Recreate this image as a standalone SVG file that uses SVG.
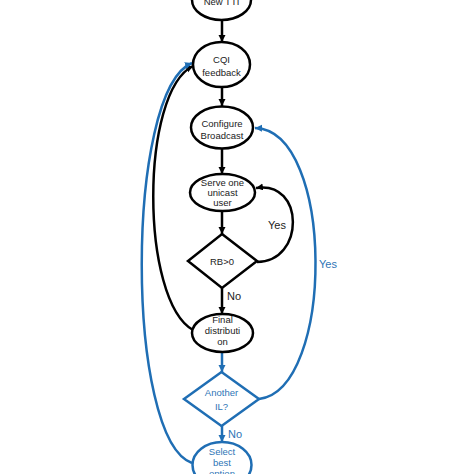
<svg xmlns="http://www.w3.org/2000/svg" width="474" height="474" viewBox="0 0 474 474">
<defs>
<style>
.nb{fill:#fff;stroke:#000;stroke-width:2.5}
.nu{fill:#fff;stroke:#1f6eb4;stroke-width:2.5}
.t{font-family:"Liberation Sans",Arial,sans-serif;font-size:9.5px;text-anchor:middle;fill:#222}
.tb{font-family:"Liberation Sans",Arial,sans-serif;font-size:9.5px;text-anchor:middle;fill:#2e75b6}
.lb{font-family:"Liberation Sans",Arial,sans-serif;font-size:11px;fill:#222}
.lu{font-family:"Liberation Sans",Arial,sans-serif;font-size:11px;fill:#2e75b6}
.cb{fill:none;stroke:#000;stroke-width:2.5}
.cu{fill:none;stroke:#1f6eb4;stroke-width:2.5}
</style>
<marker id="ab" markerUnits="userSpaceOnUse" markerWidth="8" markerHeight="8" refX="7" refY="3.5" orient="auto"><path d="M0,0 L7,3.5 L0,7 z" fill="#000"/></marker>
<marker id="au" markerUnits="userSpaceOnUse" markerWidth="8" markerHeight="8" refX="7" refY="3.5" orient="auto"><path d="M0,0 L7,3.5 L0,7 z" fill="#1f6eb4"/></marker>
</defs>
<rect width="474" height="474" fill="#fff"/>
<g id="connectors">
<line class="cb" x1="222" y1="20" x2="222" y2="42" marker-end="url(#ab)"/>
<line class="cb" x1="222" y1="87" x2="222" y2="106" marker-end="url(#ab)"/>
<line class="cb" x1="222" y1="148.5" x2="222" y2="174" marker-end="url(#ab)"/>
<line class="cb" x1="222" y1="211" x2="222" y2="234" marker-end="url(#ab)"/>
<line class="cb" x1="222" y1="288" x2="222" y2="314" marker-end="url(#ab)"/>
<line class="cu" x1="222" y1="352" x2="222" y2="372" marker-end="url(#au)"/>
<line class="cu" x1="222" y1="426" x2="222" y2="442" marker-end="url(#au)"/>
<path class="cb" d="M257,262 C305,262 305,180 256,188" marker-end="url(#ab)"/>
<path class="cb" d="M193,330 C140,300 140,92 193,66" marker-end="url(#ab)"/>
<path class="cu" d="M192,463 C125,440 125,90 192,63" marker-end="url(#au)"/>
<path class="cu" d="M259,399 C335,390 335,130 255,128" marker-end="url(#au)"/>
<text class="lb" x="268" y="229">Yes</text>
<text class="lb" x="227" y="300">No</text>
<text class="lu" x="319" y="268">Yes</text>
<text class="lu" x="228" y="438">No</text>
</g>
<g id="new-tti">
<ellipse class="nb" cx="221.5" cy="0" rx="29.5" ry="20"/>
<text class="t" x="221.5" y="5">New TTI</text>
</g>
<g id="cqi-feedback">
<ellipse class="nb" cx="221.5" cy="64.5" rx="28.5" ry="22.5"/>
<text class="t" x="221.5" y="63">CQI</text>
<text class="t" x="221.5" y="76">feedback</text>
</g>
<g id="configure-broadcast">
<ellipse class="nb" cx="222" cy="127.5" rx="31" ry="21"/>
<text class="t" x="222" y="127">Configure</text>
<text class="t" x="222" y="139">Broadcast</text>
</g>
<g id="serve-unicast">
<ellipse class="nb" cx="222.5" cy="192.5" rx="32.5" ry="18.5"/>
<text class="t" x="222.5" y="186">Serve one</text>
<text class="t" x="222.5" y="196">unicast</text>
<text class="t" x="222.5" y="206">user</text>
</g>
<g id="rb-check">
<polygon class="nb" points="222,234 257,261 222,288 188,261"/>
<text class="t" x="222" y="265">RB&gt;0</text>
</g>
<g id="final-distribution">
<ellipse class="nb" cx="222.5" cy="333" rx="30.5" ry="19"/>
<text class="t" x="222.5" y="323">Final</text>
<text class="t" x="222.5" y="334">distributi</text>
<text class="t" x="222.5" y="345">on</text>
</g>
<g id="another-il">
<polygon class="nu" points="221.5,372 259,399 221.5,426 184,399"/>
<text class="tb" x="221.5" y="396">Another</text>
<text class="tb" x="221.5" y="410">IL?</text>
</g>
<g id="select-best">
<ellipse class="nu" cx="222" cy="465" rx="29.5" ry="23"/>
<text class="tb" x="222" y="455">Select</text>
<text class="tb" x="222" y="466">best</text>
<text class="tb" x="222" y="477">option</text>
</g>
</svg>
